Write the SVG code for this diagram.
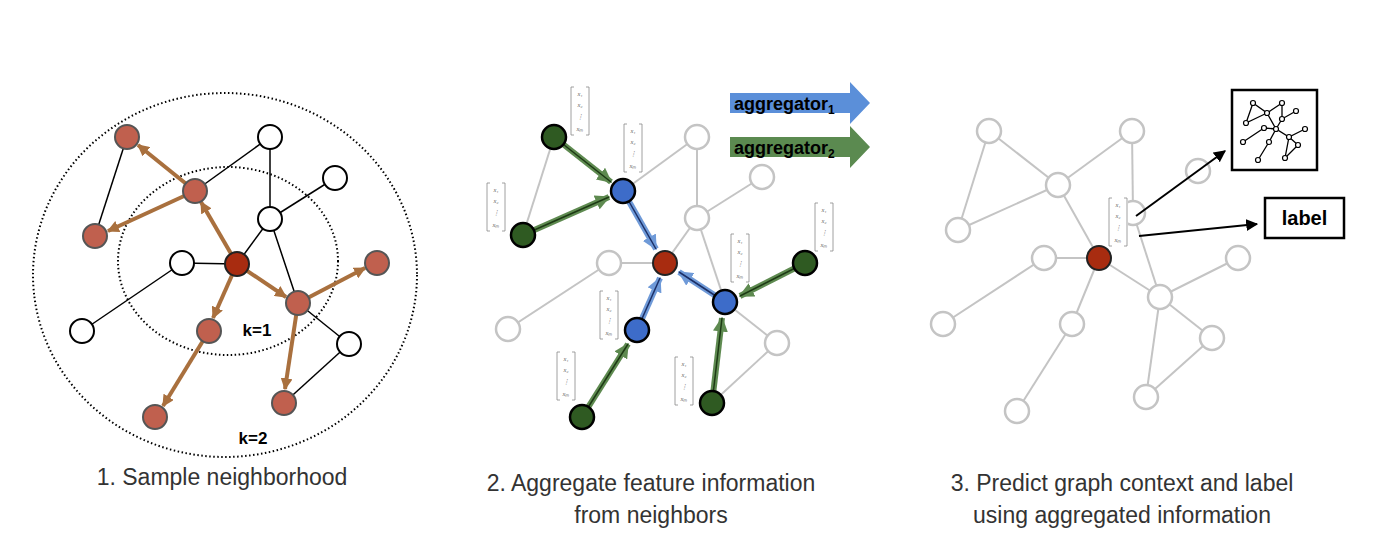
<svg xmlns="http://www.w3.org/2000/svg" width="1386" height="546" viewBox="0 0 1386 546">
<style>
.e{stroke:#000;stroke-width:1.5;fill:none}
.g{stroke:#c4c4c4;stroke-width:2;fill:none}
.nw{fill:#fff;stroke:#000;stroke-width:2}
.nr{fill:#c0604e;stroke:#555;stroke-width:2}
.nc{fill:#a82c10;stroke:#222;stroke-width:2}
.ng{fill:#fff;stroke:#c4c4c4;stroke-width:2.5}
.ngr{fill:#2f5a22;stroke:#000;stroke-width:2.5}
.nb{fill:#3d6cc9;stroke:#000;stroke-width:2.5}
.br{stroke:#a9703e;stroke-width:4;fill:none;marker-end:url(#mb)}
.ga{stroke:#5e8a50;stroke-width:6;fill:none;marker-end:url(#mg)}
.gi{stroke:#1d3a14;stroke-width:1.5;fill:none}
.ba{stroke:#6f9ad8;stroke-width:6;fill:none;marker-end:url(#mbl)}
.bi{stroke:#1c2f66;stroke-width:1.5;fill:none}
.cap{font-family:"Liberation Sans",Arial,sans-serif;font-size:23px;fill:#333;text-anchor:middle}
.k{font-family:"Liberation Sans",Arial,sans-serif;font-size:17px;font-weight:bold;text-anchor:middle}
.v{font-family:"Liberation Serif",serif;font-style:italic;font-size:6.5px;fill:#666;text-anchor:middle}
.vb{stroke:#888;stroke-width:0.8;fill:none}
.ag{font-family:"Liberation Sans",Arial,sans-serif;font-size:18px;font-weight:bold}
</style>
<defs>
<marker id="mb" viewBox="0 0 10 10" refX="9" refY="5" markerWidth="3" markerHeight="3" orient="auto"><path d="M0,0L10,5L0,10z" fill="#a9703e"/></marker>
<marker id="mg" viewBox="0 0 10 10" refX="9" refY="5" markerWidth="2.5" markerHeight="2.5" orient="auto"><path d="M0,0L10,5L0,10z" fill="#5e8a50"/></marker>
<marker id="mbl" viewBox="0 0 10 10" refX="9" refY="5" markerWidth="2.5" markerHeight="2.5" orient="auto"><path d="M0,0L10,5L0,10z" fill="#6f9ad8"/></marker>
<marker id="mk" viewBox="0 0 10 10" refX="9" refY="5" markerWidth="6" markerHeight="6" orient="auto"><path d="M0,0L10,5L0,10z" fill="#000"/></marker>
<g id="vec">
<path class="vb" d="M3,0H0V48H3M15,0H18V48H15"/>
<text class="v" x="9" y="9">x₁</text><text class="v" x="9" y="20">x₂</text><text class="v" x="9" y="32">⋮</text><text class="v" x="9" y="44">xₘ</text>
</g>
</defs>

<g id="panel1">
<ellipse cx="225" cy="275" rx="192" ry="182" fill="none" stroke="#000" stroke-width="2" stroke-dasharray="1.5,2.5"/>
<ellipse cx="228" cy="261" rx="110" ry="94" fill="none" stroke="#000" stroke-width="2" stroke-dasharray="1.5,2.5"/>
<g id="p1-edges">
<line class="e" x1="127" y1="137" x2="95" y2="236"/>
<line class="e" x1="195" y1="191" x2="270" y2="137"/>
<line class="e" x1="270" y1="137" x2="270" y2="219"/>
<line class="e" x1="270" y1="219" x2="335" y2="178"/>
<line class="e" x1="270" y1="219" x2="237" y2="264"/>
<line class="e" x1="270" y1="219" x2="298" y2="303"/>
<line class="e" x1="237" y1="264" x2="182" y2="263"/>
<line class="e" x1="182" y1="263" x2="82" y2="331"/>
<line class="e" x1="298" y1="303" x2="349" y2="344"/>
<line class="e" x1="349" y1="344" x2="284" y2="403"/>
<line class="br" x1="237" y1="264" x2="201" y2="202"/>
<line class="br" x1="195" y1="191" x2="138" y2="145"/>
<line class="br" x1="195" y1="191" x2="108" y2="231"/>
<line class="br" x1="237" y1="264" x2="213" y2="318"/>
<line class="br" x1="209" y1="331" x2="163" y2="406"/>
<line class="br" x1="237" y1="264" x2="286" y2="297"/>
<line class="br" x1="298" y1="303" x2="365" y2="268"/>
<line class="br" x1="298" y1="303" x2="285" y2="389"/>
</g>
<g id="p1-nodes">
<circle class="nr" cx="127" cy="137" r="12"/>
<circle class="nw" cx="270" cy="137" r="12"/>
<circle class="nr" cx="195" cy="191" r="12"/>
<circle class="nw" cx="335" cy="178" r="12"/>
<circle class="nw" cx="270" cy="219" r="12"/>
<circle class="nr" cx="95" cy="236" r="12"/>
<circle class="nw" cx="182" cy="263" r="12"/>
<circle class="nc" cx="237" cy="264" r="12"/>
<circle class="nr" cx="377" cy="263" r="12"/>
<circle class="nr" cx="298" cy="303" r="12"/>
<circle class="nw" cx="82" cy="331" r="12"/>
<circle class="nr" cx="209" cy="331" r="12"/>
<circle class="nw" cx="349" cy="344" r="12"/>
<circle class="nr" cx="155" cy="417" r="12"/>
<circle class="nr" cx="284" cy="403" r="12"/>
</g>
<text class="k" x="257" y="336">k=1</text>
<text class="k" x="253" y="444">k=2</text>
<text class="cap" x="222" y="485">1. Sample neighborhood</text>
</g>

<g id="panel2">
<g id="p2-edges">
<line class="g" x1="554" y1="137" x2="523" y2="235"/>
<line class="g" x1="623" y1="191" x2="697" y2="137"/>
<line class="g" x1="697" y1="137" x2="697" y2="218"/>
<line class="g" x1="697" y1="218" x2="762" y2="177"/>
<line class="g" x1="697" y1="218" x2="665" y2="263"/>
<line class="g" x1="697" y1="218" x2="725" y2="302"/>
<line class="g" x1="665" y1="263" x2="609" y2="263"/>
<line class="g" x1="609" y1="263" x2="508" y2="329"/>
<line class="g" x1="725" y1="302" x2="777" y2="343"/>
<line class="g" x1="777" y1="343" x2="712" y2="403"/>
<line class="ga" x1="554" y1="137" x2="611" y2="182"/>
<line class="gi" x1="554" y1="137" x2="611" y2="182"/>
<line class="ga" x1="523" y1="235" x2="609" y2="197"/>
<line class="gi" x1="523" y1="235" x2="609" y2="197"/>
<line class="ga" x1="805" y1="263" x2="740" y2="296"/>
<line class="gi" x1="805" y1="263" x2="740" y2="296"/>
<line class="ga" x1="712" y1="403" x2="722" y2="318"/>
<line class="gi" x1="712" y1="403" x2="722" y2="318"/>
<line class="ga" x1="582" y1="417" x2="628" y2="344"/>
<line class="gi" x1="582" y1="417" x2="628" y2="344"/>
<line class="ba" x1="623" y1="191" x2="656" y2="249"/>
<line class="bi" x1="623" y1="191" x2="656" y2="249"/>
<line class="ba" x1="637" y1="330" x2="660" y2="278"/>
<line class="bi" x1="637" y1="330" x2="660" y2="278"/>
<line class="ba" x1="725" y1="302" x2="679" y2="272"/>
<line class="bi" x1="725" y1="302" x2="679" y2="272"/>
</g>
<g id="p2-nodes">
<circle class="ngr" cx="554" cy="137" r="12"/>
<circle class="nb" cx="623" cy="191" r="12"/>
<circle class="ng" cx="697" cy="137" r="12"/>
<circle class="ng" cx="762" cy="177" r="12"/>
<circle class="ng" cx="697" cy="218" r="12"/>
<circle class="ngr" cx="523" cy="235" r="12"/>
<circle class="nc" cx="665" cy="263" r="12"/>
<circle class="ng" cx="609" cy="263" r="12"/>
<circle class="ngr" cx="805" cy="263" r="12"/>
<circle class="nb" cx="725" cy="302" r="12"/>
<circle class="ng" cx="508" cy="329" r="12"/>
<circle class="nb" cx="637" cy="330" r="12"/>
<circle class="ng" cx="777" cy="343" r="12"/>
<circle class="ngr" cx="582" cy="417" r="12"/>
<circle class="ngr" cx="712" cy="403" r="12"/>
</g>
<use href="#vec" x="571" y="87"/>
<use href="#vec" x="624" y="124"/>
<use href="#vec" x="487" y="183"/>
<use href="#vec" x="815" y="203"/>
<use href="#vec" x="731" y="234"/>
<use href="#vec" x="600" y="291"/>
<use href="#vec" x="557" y="352"/>
<use href="#vec" x="675" y="357"/>
<g id="agg1">
<path d="M730,93H850V82L870,103L850,124V113H730z" fill="#5b8fd9"/>
<text class="ag" x="734" y="110">aggregator<tspan font-size="12" dy="4">1</tspan></text>
</g>
<g id="agg2">
<path d="M730,137H850V126L870,147L850,168V157H730z" fill="#5b8a50"/>
<text class="ag" x="734" y="154">aggregator<tspan font-size="12" dy="4">2</tspan></text>
</g>
<text class="cap" x="651" y="491">2. Aggregate feature information</text>
<text class="cap" x="651" y="523">from neighbors</text>
</g>

<g id="panel3">
<g id="p3-edges">
<line class="g" x1="989" y1="131" x2="1058" y2="185"/>
<line class="g" x1="989" y1="131" x2="958" y2="230"/>
<line class="g" x1="958" y1="230" x2="1058" y2="185"/>
<line class="g" x1="1058" y1="185" x2="1132" y2="131"/>
<line class="g" x1="1132" y1="131" x2="1133" y2="213"/>
<line class="g" x1="1058" y1="185" x2="1099" y2="258"/>
<line class="g" x1="1133" y1="213" x2="1160" y2="297"/>
<line class="g" x1="1099" y1="258" x2="1044" y2="258"/>
<line class="g" x1="1044" y1="258" x2="943" y2="324"/>
<line class="g" x1="1099" y1="258" x2="1072" y2="324"/>
<line class="g" x1="1072" y1="324" x2="1017" y2="411"/>
<line class="g" x1="1099" y1="258" x2="1160" y2="297"/>
<line class="g" x1="1160" y1="297" x2="1238" y2="258"/>
<line class="g" x1="1160" y1="297" x2="1212" y2="338"/>
<line class="g" x1="1160" y1="297" x2="1146" y2="397"/>
<line class="g" x1="1146" y1="397" x2="1212" y2="338"/>
</g>
<g id="p3-nodes">
<circle class="ng" cx="989" cy="131" r="12"/>
<circle class="ng" cx="1132" cy="131" r="12"/>
<circle class="ng" cx="1058" cy="185" r="12"/>
<circle class="ng" cx="1198" cy="171" r="12"/>
<circle class="ng" cx="958" cy="230" r="12"/>
<circle class="ng" cx="1133" cy="213" r="12"/>
<circle class="ng" cx="1044" cy="258" r="12"/>
<circle class="nc" cx="1099" cy="258" r="12"/>
<circle class="ng" cx="1238" cy="258" r="12"/>
<circle class="ng" cx="1160" cy="297" r="12"/>
<circle class="ng" cx="943" cy="324" r="12"/>
<circle class="ng" cx="1072" cy="324" r="12"/>
<circle class="ng" cx="1212" cy="338" r="12"/>
<circle class="ng" cx="1146" cy="397" r="12"/>
<circle class="ng" cx="1017" cy="411" r="12"/>
</g>
<rect x="1108" y="198" width="20" height="48" fill="#fff"/>
<use href="#vec" x="1109" y="198"/>
<g id="p3-arrows">
<line x1="1136" y1="216" x2="1225" y2="151" stroke="#000" stroke-width="2" marker-end="url(#mk)"/>
<line x1="1139" y1="236" x2="1257" y2="224" stroke="#000" stroke-width="2" marker-end="url(#mk)"/>
</g>
<g id="graphbox">
<rect x="1232" y="90" width="85" height="80" fill="#fff" stroke="#000" stroke-width="2.5"/>
<g stroke="#000" stroke-width="1.3" fill="none">
<path d="M1253,103L1267,113L1246,123Z M1267,113L1282,103 M1267,113L1276,129 M1282,103L1282,119L1296,111 M1282,119L1276,129 M1264,128L1276,129L1289,137L1305,129 M1289,137L1298,145L1285,158Z M1276,129L1269,142L1258,160 M1264,128L1243,142"/>
</g>
<g fill="#fff" stroke="#000" stroke-width="1.2">
<circle cx="1253" cy="103" r="2.5"/><circle cx="1267" cy="113" r="2.5"/><circle cx="1282" cy="103" r="2.5"/><circle cx="1296" cy="111" r="2.5"/><circle cx="1246" cy="123" r="2.5"/><circle cx="1282" cy="119" r="2.5"/><circle cx="1264" cy="128" r="2.5"/><circle cx="1276" cy="129" r="2.5"/><circle cx="1305" cy="129" r="2.5"/><circle cx="1289" cy="137" r="2.5"/><circle cx="1243" cy="142" r="2.5"/><circle cx="1269" cy="142" r="2.5"/><circle cx="1298" cy="145" r="2.5"/><circle cx="1258" cy="160" r="2.5"/><circle cx="1285" cy="158" r="2.5"/>
</g>
</g>
<g id="labelbox">
<rect x="1265" y="198" width="79" height="40" fill="#fff" stroke="#000" stroke-width="2.5"/>
<text x="1304.5" y="225" font-family="Liberation Sans,Arial,sans-serif" font-size="20" font-weight="bold" text-anchor="middle">label</text>
</g>
<text class="cap" x="1122" y="491">3. Predict graph context and label</text>
<text class="cap" x="1122" y="523">using aggregated information</text>
</g>
</svg>
